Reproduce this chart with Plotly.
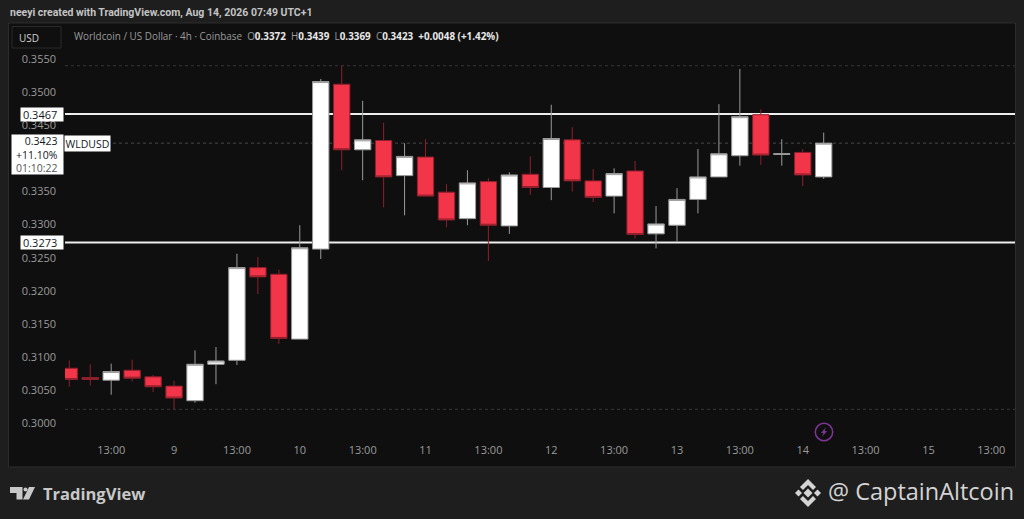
import pandas as pd
import plotly.graph_objects as go

times = pd.date_range("2026-08-08 05:00", periods=37, freq="4h")
opens = [.3083, .3069, .3065, .3080, .3070, .3056, .3034, .3089, .3095, .3235, .3225, .3127, .3263,
         .3512, .3413, .3427, .3374, .3402, .3349, .3309, .3365, .3298, .3376, .3356, .3428,
         .3366, .3343, .3381, .3286, .3299, .3338, .3372, .3404, .3466, .3406, .3409, .3372]
highs = [.3095, .3089, .3090, .3096, .3073, .3064, .3110, .3115, .3256, .3251, .3232, .3299, .3520,
         .3540, .3487, .3454, .3423, .3429, .3361, .3382, .3370, .3379, .3403, .3481, .3447,
         .3384, .3385, .3396, .3328, .3355, .3414, .3482, .3535, .3474, .3429, .3414, .3439]
lows = [.3055, .3057, .3043, .3063, .3047, .3021, .3031, .3059, .3088, .3195, .3120, .3127, .3248,
        .3382, .3367, .3326, .3314, .3343, .3296, .3299, .3245, .3286, .3345, .3337, .3350,
        .3334, .3317, .3279, .3264, .3274, .3317, .3372, .3389, .3390, .3389, .3358, .3369]
closes = [.3066, .3066, .3078, .3068, .3055, .3038, .3089, .3094, .3235, .3221, .3128, .3265, .3516,
          .3413, .3428, .3372, .3403, .3343, .3307, .3363, .3299, .3375, .3356, .3430, .3366,
          .3341, .3377, .3285, .3301, .3338, .3372, .3407, .3463, .3405, .3407, .3375, .3423]

x_tick_times = ["2026-08-08 13:00", "2026-08-09 01:00", "2026-08-09 13:00", "2026-08-10 01:00",
                "2026-08-10 13:00", "2026-08-11 01:00", "2026-08-11 13:00", "2026-08-12 01:00",
                "2026-08-12 13:00", "2026-08-13 01:00", "2026-08-13 13:00", "2026-08-14 01:00",
                "2026-08-14 13:00", "2026-08-15 01:00", "2026-08-15 13:00"]
x_tick_text = ["13:00", "9", "13:00", "10", "13:00", "11", "13:00", "12",
               "13:00", "13", "13:00", "14", "13:00", "15", "13:00"]
# 0.3400 sits behind the last price box in the reference, so it is left out
y_ticks = [.3000, .3050, .3100, .3150, .3200, .3250, .3300, .3350, .3450, .3500, .3550]

level_top = 0.3467
level_bottom = 0.3273
last_price = 0.3423
range_high = 0.3540
range_low = 0.3021

W, H = 1024, 519
L, R, T, B = 65, 1015, 23, 442
BG = "#1e1e1e"
PANEL = "#0f0f0f"
FONT = "Open Sans"
NB = "\u00a0\u00a0"


# picture pixels -> paper coords
def px(x):
    return (x - L) / (R - L)


def py(y):
    return (B - y) / (B - T)


def poly(points):
    return "M" + " L".join(f"{px(a):.5f},{py(b):.5f}" for a, b in points) + " Z"


fig = go.Figure(go.Candlestick(
    x=times, open=opens, high=highs, low=lows, close=closes,
    increasing=dict(fillcolor="#ffffff", line=dict(color="#9a9a9a", width=1)),
    decreasing=dict(fillcolor="#f23548", line=dict(color="#8f1f2c", width=1)),
    whiskerwidth=0, hoverinfo="skip",
))

shapes = [
    dict(type="rect", xref="paper", yref="paper", x0=px(8.5), x1=px(1015.5), y0=py(23), y1=py(467),
         fillcolor=PANEL, line=dict(color="#2c2c2c", width=1), layer="below"),
    dict(type="rect", xref="paper", yref="paper", x0=px(12), x1=px(61), y0=py(26.5), y1=py(48),
         fillcolor=PANEL, line=dict(color="#2a2a2a", width=1), layer="below"),
]
for level, color, width, dash in [(range_high, "#363636", 1, "dot"), (range_low, "#363636", 1, "dot"),
                                  (last_price, "#484848", 1, "dot"),
                                  (level_top, "#eeeeee", 2, "solid"), (level_bottom, "#eeeeee", 2, "solid")]:
    shapes.append(dict(type="line", xref="paper", yref="y", x0=0, x1=1, y0=level, y1=level,
                       line=dict(color=color, width=width, dash=dash), layer="below"))

# TradingView logo
logo = "#c8c8c8"
shapes += [
    dict(type="path", xref="paper", yref="paper", fillcolor=logo, line_width=0,
         path=poly([(10, 487), (22.5, 487), (22.5, 499.5), (16.5, 499.5), (16.5, 493), (10, 493)])),
    dict(type="circle", xref="paper", yref="paper", fillcolor=logo, line_width=0,
         x0=px(23.5), x1=px(27.5), y0=py(491.5), y1=py(487.5)),
    dict(type="path", xref="paper", yref="paper", fillcolor=logo, line_width=0,
         path=poly([(29, 487), (35, 487), (29, 499.5), (23, 499.5)])),
]

# Binance style mark
mark = "#d4d4d4"
for pts in [
    [(808, 488.5), (812.5, 493), (808, 497.5), (803.5, 493)],
    [(798.5, 489.5), (802, 493), (798.5, 496.5), (795, 493)],
    [(817.5, 489.5), (821, 493), (817.5, 496.5), (814, 493)],
    [(808, 479), (816, 487), (813, 490), (808, 485), (803, 490), (800, 487)],
    [(808, 507), (816, 499), (813, 496), (808, 501), (803, 496), (800, 499)],
]:
    shapes.append(dict(type="path", xref="paper", yref="paper", fillcolor=mark, line_width=0, path=poly(pts)))

# purple lightning badge
shapes += [
    dict(type="circle", xref="paper", yref="paper", fillcolor=PANEL, line=dict(color="#7e3596", width=1.5),
         x0=px(815.3), x1=px(832.7), y0=py(440.7), y1=py(423.3)),
    dict(type="path", xref="paper", yref="paper", fillcolor="#7e3596", line_width=0,
         path=poly([(826, 427), (821, 433), (823.5, 433), (822, 437), (827, 431), (824.5, 431)])),
]


def label(x, y, text, color="#9b9b9b", size=11, anchor="left", family=FONT, **kw):
    return dict(xref="paper", yref="paper", x=px(x), y=py(y), text=text, showarrow=False, xanchor=anchor,
                yanchor="middle", font=dict(family=family, size=size, color=color), **kw)


def box(x, yval, text, width):
    return dict(xref="paper", yref="y", x=px(x), y=yval, text=text + NB, showarrow=False, xanchor="right",
                yanchor="middle", align="right", bgcolor="#ffffff", width=width, height=13, borderpad=0,
                font=dict(family=FONT, size=11, color="#131722"))


def hl(text):
    return f"<span style='color:#e8e8e8'><b>{text}</b></span>"


annotations = [
    label(8, 13, "<b>neeyi created with TradingView.com, Aug 14, 2026 07:49 UTC+1</b>", color="#c4c4c4",
          size=10.5, family="Roboto"),
    label(29, 37.5, "USD", color="#d0d0d0", size=10, anchor="center"),
    label(72, 36.5, "Worldcoin / US Dollar · 4h · Coinbase  O" + hl("0.3372") + "  H" + hl("0.3439")
          + "  L" + hl("0.3369") + "  C" + hl("0.3423") + "  " + hl("+0.0048 (+1.42%)"), size=9.9),
    box(64, level_top, "0.3467", 42),
    box(64, level_bottom, "0.3273", 42),
    dict(xref="paper", yref="paper", x=px(64), y=py(154.5), showarrow=False, xanchor="right", yanchor="middle",
         align="right", bgcolor="#ffffff", width=51, height=39, borderpad=0,
         text=f"0.3423{NB}<br>+11.10%{NB}<br><span style='color:#555'>01:10:22{NB}</span>",
         font=dict(family=FONT, size=10.5, color="#131722")),
    label(87.5, 143.5, "WLDUSD", color="#131722", size=10.5, anchor="center", bgcolor="#ffffff",
          width=45, height=15, borderpad=0),
    label(41, 493.5, "<b>TradingView</b>", color="#c8c8c8", size=16.5),
    label(1016, 491, "@ CaptainAltcoin", color="#d4d4d4", size=23.5, anchor="right"),
]

fig.update_layout(
    width=W, height=H,
    margin=dict(l=L, r=W - R, t=T, b=H - B, pad=0),
    paper_bgcolor=BG, plot_bgcolor=PANEL,
    showlegend=False, shapes=shapes, annotations=annotations,
    boxgap=0.22, boxgroupgap=0,
    font=dict(family=FONT, size=11, color="#9b9b9b"),
)
fig.update_xaxes(
    type="date", rangeslider_visible=False, showgrid=False, zeroline=False, showline=False, ticks="",
    range=["2026-08-08 04:11", "2026-08-15 17:31"],
    tickmode="array", tickvals=x_tick_times, ticktext=x_tick_text, tickfont=dict(size=11, color="#9b9b9b"),
)
fig.update_yaxes(
    range=[0.29716, 0.36045], showgrid=False, zeroline=False, showline=False, ticks="",
    tickmode="array", tickvals=y_ticks, tickformat=".4f", tickfont=dict(size=11, color="#9b9b9b"),
    ticklabelstandoff=8,
)

fig.write_html("out.html", config=dict(displayModeBar=False),
               post_script="document.body.style.margin='0';document.body.style.background='#1e1e1e';")
